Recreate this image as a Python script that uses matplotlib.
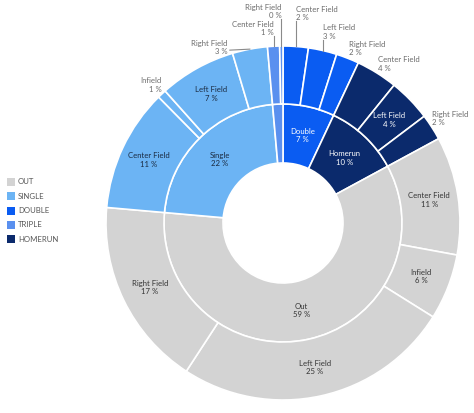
import matplotlib
matplotlib.use('Agg')
import matplotlib.pyplot as plt
from matplotlib.patches import Rectangle
import numpy as np

# ---------------- data ----------------
hit_types = ['Double', 'Homerun', 'Out', 'Single', 'Triple']
legend_labels = ['OUT', 'SINGLE', 'DOUBLE', 'TRIPLE', 'HOMERUN']

double_fields = ['Center Field', 'Left Field', 'Right Field']
double_values = [2.3, 2.6, 2.1]
homerun_fields = ['Center Field', 'Left Field', 'Right Field']
homerun_values = [3.8, 3.9, 2.4]
out_fields = ['Center Field', 'Infield', 'Left Field', 'Right Field']
out_values = [10.8, 6.0, 25.3, 17.2]
single_fields = ['Center Field', 'Infield', 'Left Field', 'Right Field']
single_values = [11.2, 0.8, 7.0, 3.2]
triple_fields = ['Center Field', 'Right Field']
triple_values = [1.1, 0.3]

# ---------------- style ----------------
colors = {'Out': '#d3d3d3', 'Single': '#6cb4f4', 'Double': '#0a5cf2',
          'Triple': '#5a90ef', 'Homerun': '#0b2a6c'}
legend_colors = [colors['Out'], colors['Single'], colors['Double'],
                 colors['Triple'], colors['Homerun']]
inner_text_color = {'Out': '#333333', 'Single': '#1a2a40', 'Double': 'white',
                    'Triple': 'white', 'Homerun': 'white'}
FONT = ['Lato', 'DejaVu Sans']
FS = 5.6

W, H = 474, 413
CX, CY = 283, 223          # centre in pixel coords (y down)
R0, R1, R2 = 60, 119, 177

# outside-label layout: (dx, dy) text anchor offset from ring edge, line end offset
outside = {
    ('Triple', 'Center Field'): dict(off=(0, -10), line=(0, -10), side='right'),
    ('Triple', 'Right Field'): dict(off=(0, -27), line=(0, -27), side='right'),
    ('Double', 'Center Field'): dict(off=(0, -25), line=(0, -25), side='left'),
    ('Double', 'Left Field'): dict(off=(0, -11), line=(0, -11), side='left'),
    ('Double', 'Right Field'): dict(off=(1, -2), line=None, side='left'),
    ('Homerun', 'Center Field'): dict(off=(1, -1), line=None, side='left'),
    ('Homerun', 'Right Field'): dict(off=(0, -1), line=None, side='left'),
    ('Single', 'Infield'): dict(off=(0, -1), line=None, side='right'),
    ('Single', 'Right Field'): dict(off=(-22, 6), line=(-20, 1), side='right'),
}

# ---------------- assemble ----------------
sub = {'Double': (double_fields, double_values),
       'Homerun': (homerun_fields, homerun_values),
       'Out': (out_fields, out_values),
       'Single': (single_fields, single_values),
       'Triple': (triple_fields, triple_values)}
inner_values = [sum(sub[h][1]) for h in hit_types]
total = sum(inner_values)
outer_values, outer_parent, outer_field = [], [], []
for h in hit_types:
    for f, v in zip(*sub[h]):
        outer_values.append(v); outer_parent.append(h); outer_field.append(f)

fig = plt.figure(figsize=(W / 100, H / 100), dpi=100)
ax = fig.add_axes([0, 0, 1, 1])

wp = dict(edgecolor='white', linewidth=1.2)
ax.pie(inner_values, radius=R1, center=(CX, H - CY), startangle=90,
       counterclock=False, colors=[colors[h] for h in hit_types],
       wedgeprops=dict(width=R1 - R0, **wp))
ax.pie(outer_values, radius=R2, center=(CX, H - CY), startangle=90,
       counterclock=False, colors=[colors[p] for p in outer_parent],
       wedgeprops=dict(width=R2 - R1, **wp))
ax.set_xlim(0, W)
ax.set_ylim(0, H)
ax.set_aspect('auto')
ax.axis('off')


def pt(frac, r):
    th = np.deg2rad(frac * 360)
    return CX + r * np.sin(th), CY - r * np.cos(th)


def pct(v):
    return f"{int(round(v / total * 100))} %"


# inner labels
cum = 0
for h, v in zip(hit_types, inner_values):
    mid = (cum + v / 2) / total
    cum += v
    if v / total < 0.03:
        continue
    x, y = pt(mid, (R0 + R1) / 2)
    ax.text(x, H - y, f"{h}\n{pct(v)}", ha='center', va='center',
            fontsize=FS, family=FONT, color=inner_text_color[h], linespacing=1.25)

# outer labels
cum = 0
for p, f, v in zip(outer_parent, outer_field, outer_values):
    mid = (cum + v / 2) / total
    cum += v
    key = (p, f)
    if key in outside:
        lay = outside[key]
        ex, ey = pt(mid, R2)
        tx, ty = ex + lay['off'][0], ey + lay['off'][1]
        if lay['line'] is not None:
            lx, ly = ex + lay['line'][0], ey + lay['line'][1]
            ax.plot([ex, lx], [H - ey, H - ly], color='#8a8a8a', lw=0.8)
        ax.text(tx, H - ty, f"{f}\n{pct(v)}",
                ha='left' if lay['side'] == 'left' else 'right', va='bottom',
                fontsize=FS, family=FONT, color='#6a6a6a', linespacing=1.25,
                multialignment='left' if lay['side'] == 'left' else 'right')
    else:
        x, y = pt(mid, (R1 + R2) / 2)
        ax.text(x, H - y, f"{f}\n{pct(v)}", ha='center', va='center',
                fontsize=FS, family=FONT, color=inner_text_color[p], linespacing=1.25)

# legend
for i, (lab, c) in enumerate(zip(legend_labels, legend_colors)):
    yc = 182 + i * 14.3
    ax.add_patch(Rectangle((7, H - yc - 4), 8, 8, facecolor=c, edgecolor='none'))
    ax.text(18, H - yc, lab, ha='left', va='center', fontsize=FS,
            family=FONT, color='#555555')

fig.savefig('out.png', dpi=100)
